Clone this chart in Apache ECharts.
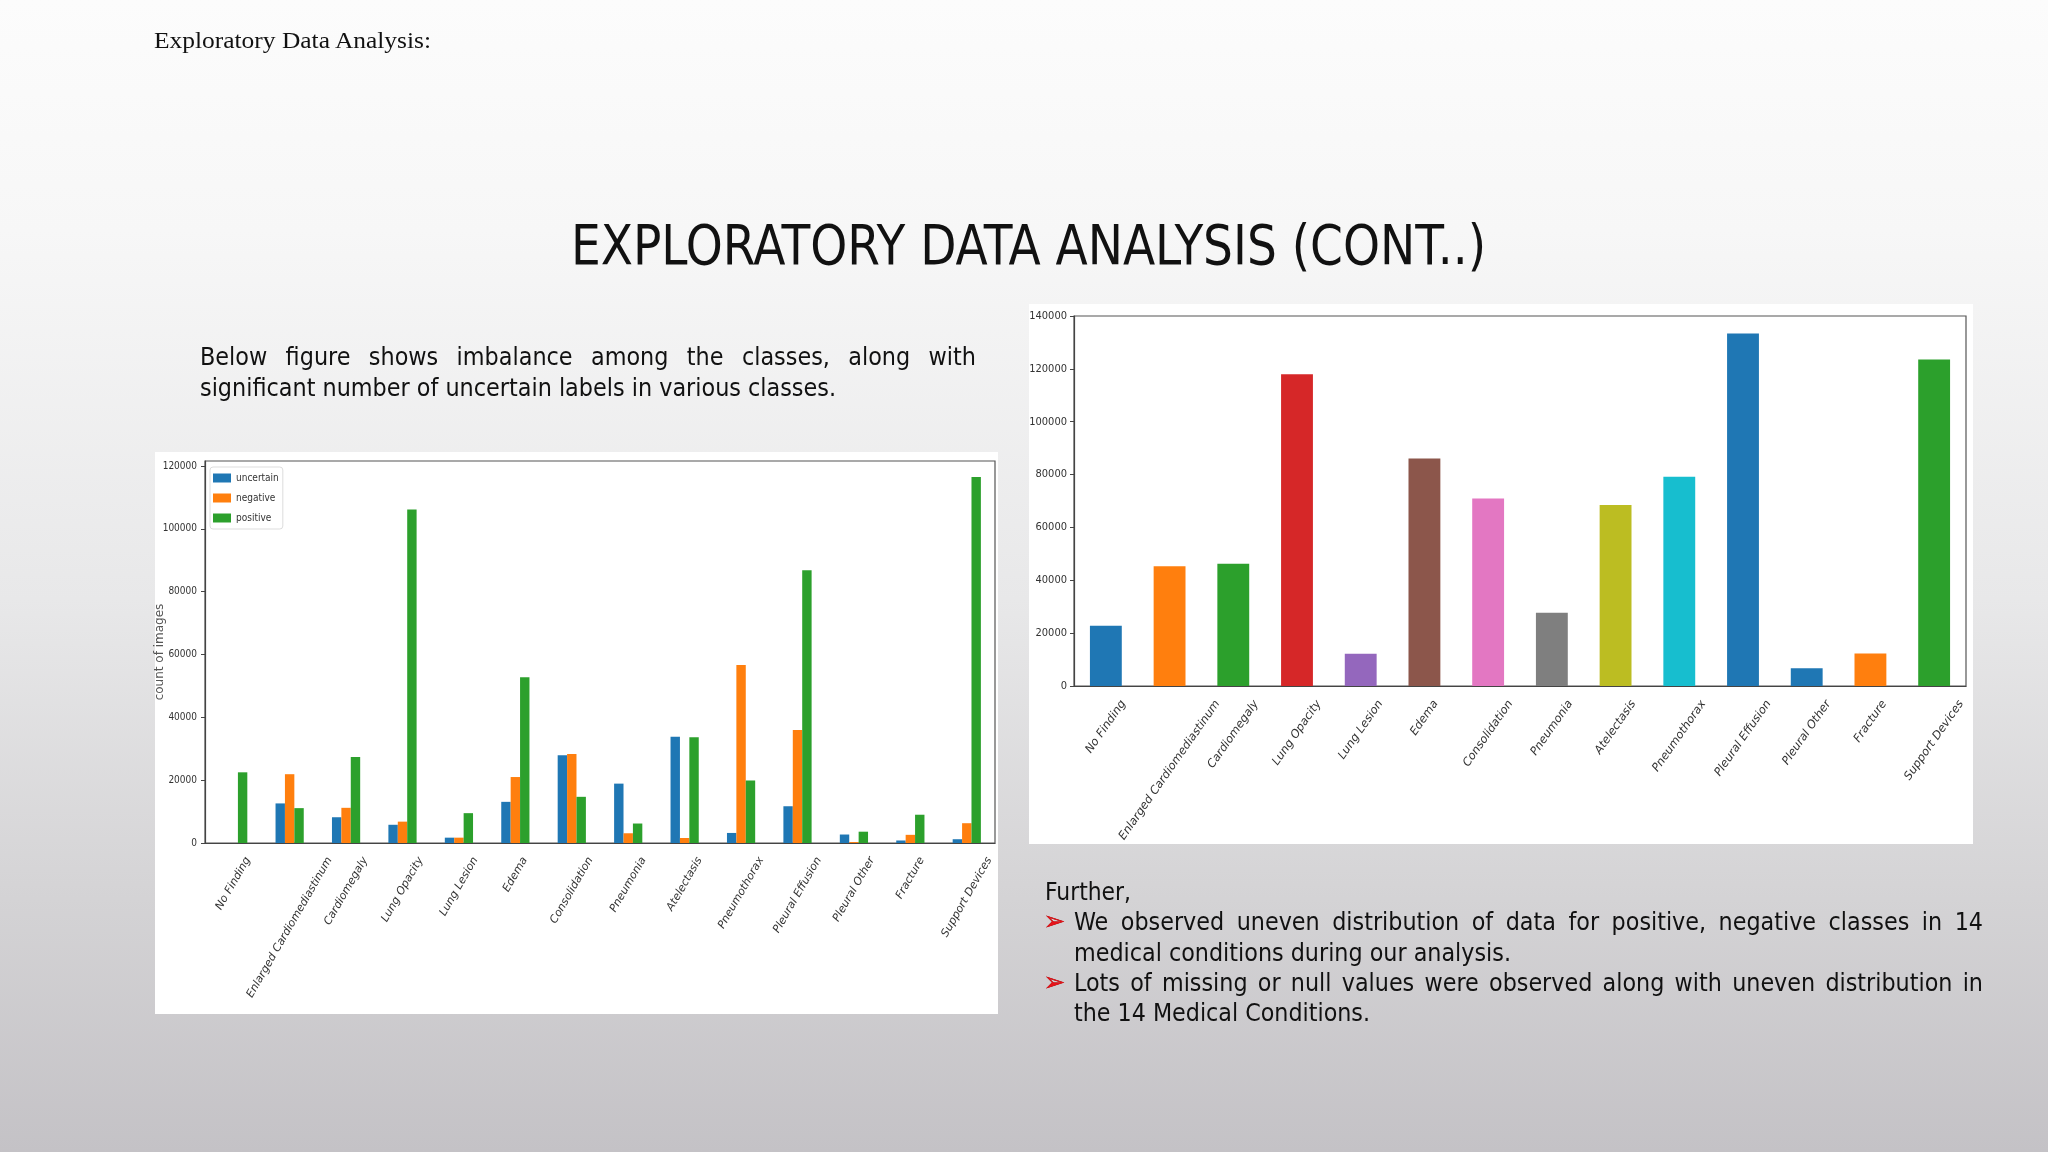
<!DOCTYPE html>
<html><head><meta charset="utf-8">
<script src="https://cdn.jsdelivr.net/npm/echarts@6/dist/echarts.min.js"></script>
<style>
html,body{margin:0;padding:0;width:2048px;height:1152px;overflow:hidden;}
body{background:linear-gradient(to bottom,#fcfcfc 0%,#f7f7f7 20%,#e8e8e9 52%,#d4d3d5 78%,#c4c2c6 100%);position:relative;font-family:'Liberation Sans Narrow','DejaVu Sans Condensed',sans-serif;color:#111;}
.panel{position:absolute;background:#fff;}
.t{position:absolute;white-space:nowrap;transform-origin:0 50%;}
#chart{position:absolute;left:0;top:0;width:2048px;height:1152px;}
.bul{position:absolute;color:#e5141a;font-family:'DejaVu Sans',sans-serif;font-size:27px;line-height:27px;text-shadow:0 0 0.6px #7a0000;}
</style></head><body>
<div class="panel" style="left:155px;top:452px;width:843px;height:562px"></div>
<div class="panel" style="left:1029px;top:304px;width:944px;height:540px"></div>
<div id="chart"></div>
<div class="t" data-x="154" data-y="40" data-w="277" style="font-family:'Liberation Serif',serif;font-size:24px;line-height:24px">Exploratory Data Analysis:</div>
<div class="t" data-x="571" data-y="245" data-w="915" style="font-size:56px;line-height:56px">EXPLORATORY DATA ANALYSIS (CONT..)</div>
<div class="t" data-x="200" data-y="357" data-w="776" data-g="a" data-j="1" style="font-size:24px;line-height:24px">Below figure shows imbalance among the classes, along with</div>
<div class="t" data-x="200" data-y="388" data-w="636" data-g="a" style="font-size:24px;line-height:24px">significant number of uncertain labels in various classes.</div>
<div class="t" data-x="1045" data-y="892" data-w="86" style="font-size:24px;line-height:24px">Further,</div>
<div class="bul" style="left:1043px;top:907px">➢</div>
<div class="t" data-x="1074" data-y="922" data-w="909" data-g="b" data-j="1" style="font-size:24px;line-height:24px">We observed uneven distribution of data for positive, negative classes in 14</div>
<div class="t" data-x="1074" data-y="953" data-w="437" data-g="b" style="font-size:24px;line-height:24px">medical conditions during our analysis.</div>
<div class="bul" style="left:1043px;top:968px">➢</div>
<div class="t" data-x="1074" data-y="983" data-w="909" data-g="b" data-j="1" style="font-size:24px;line-height:24px">Lots of missing or null values were observed along with uneven distribution in</div>
<div class="t" data-x="1074" data-y="1013" data-w="296" data-g="b" style="font-size:24px;line-height:24px">the 14 Medical Conditions.</div>
<script>
// ---------- data ----------
const categories = ['No Finding','Enlarged Cardiomediastinum','Cardiomegaly','Lung Opacity','Lung Lesion','Edema','Consolidation','Pneumonia','Atelectasis','Pneumothorax','Pleural Effusion','Pleural Other','Fracture','Support Devices'];
const seriesNames = ['uncertain','negative','positive'];
const uncertainCounts = [0, 12600, 8200, 5800, 1700, 13100, 27900, 18900, 33800, 3200, 11700, 2700, 800, 1200];
const negativeCounts  = [0, 21900, 11200, 6800, 1700, 21000, 28300, 3100, 1600, 56700, 36000, 300, 2600, 6300];
const positiveCounts  = [22500, 11100, 27400, 106200, 9500, 52800, 14700, 6200, 33700, 19900, 86800, 3600, 9000, 116500];
const totalCounts = [22800, 45300, 46300, 118000, 12200, 86100, 70900, 27700, 68500, 79200, 133400, 6700, 12300, 123500];
const leftTicks = [0, 20000, 40000, 60000, 80000, 100000, 120000];
const rightTicks = [0, 20000, 40000, 60000, 80000, 100000, 120000, 140000];
// palette (style)
const tab10 = ['#1f77b4','#ff7f0e','#2ca02c','#d62728','#9467bd','#8c564b','#e377c2','#7f7f7f','#bcbd22','#17becf'];
const barPalette = tab10.concat(['#1f77b4','#1f77b4','#ff7f0e','#2ca02c']);

// ---------- text fitting ----------
(function(){
  const els=[...document.querySelectorAll('.t')];
  const groupScale={};
  els.forEach(el=>{const fs=parseFloat(getComputedStyle(el).fontSize);el.style.left=el.dataset.x+'px';el.style.top=(+el.dataset.y-fs/2)+'px';});
  els.filter(e=>!e.dataset.j).forEach(el=>{
    const nat=el.getBoundingClientRect().width; const s=(+el.dataset.w)/nat;
    el.style.transform='scaleX('+s+')';
    if(el.dataset.g && groupScale[el.dataset.g]===undefined) groupScale[el.dataset.g]=s;
  });
  els.filter(e=>e.dataset.j).forEach(el=>{
    const nat=el.getBoundingClientRect().width; const w=+el.dataset.w;
    let s=groupScale[el.dataset.g]||1;
    if(nat*s>=w){ s=w/nat; el.style.transform='scaleX('+s+')'; return; }
    el.style.whiteSpace='normal'; el.style.width=(w/s)+'px';
    el.style.textAlign='justify'; el.style.textAlignLast='justify';
    el.style.transform='scaleX('+s+')';
  });
})();

// ---------- chart ----------
const mctx=document.createElement('canvas').getContext('2d');
function measure(t,fs){mctx.font='italic '+fs+'px "DejaVu Sans"';return mctx.measureText(t).width;}
function labelSeries(idx, rotDeg, fs){
  return {type:'custom', xAxisIndex:idx, yAxisIndex:idx, silent:true, clip:false, z:10,
    data:categories.map((c,i)=>[i,0]),
    renderItem:(params,api)=>{
      const i=api.value(0); const p=api.coord([i,0]); const txt=categories[i];
      const L=measure(txt,fs); const th=rotDeg*Math.PI/180;
      const h=L*Math.sin(th)+fs*1.1*Math.cos(th);
      return {type:'text', x:p[0], y:p[1]+12+h/2, rotation:th,
        style:{text:txt, align:'center', verticalAlign:'middle', fontFamily:'DejaVu Sans', fontStyle:'italic', fontSize:fs, fill:'#333'}};
    }};
}
const axisCol='#444';
const yLabel={fontFamily:"'Liberation Sans Narrow','DejaVu Sans Condensed',sans-serif",color:'#333',formatter:v=>String(v)};
const chart=echarts.init(document.getElementById('chart'),null,{renderer:'canvas'});
chart.setOption({
  animation:false,
  backgroundColor:'transparent',
  grid:[
    {left:205,top:461,width:790,height:382,show:true,borderColor:'#555',borderWidth:1.2,backgroundColor:'transparent'},
    {left:1074,top:316,width:892,height:370,show:true,borderColor:'#555',borderWidth:1.2,backgroundColor:'transparent'}
  ],
  legend:{data:seriesNames,orient:'vertical',left:210,top:467,itemWidth:18,itemHeight:9,itemGap:10,
    padding:[6,4,6,3],borderColor:'#ddd',borderWidth:1,borderRadius:3,backgroundColor:'#fff',
    icon:'rect',textStyle:{fontSize:10,fontFamily:"'Liberation Sans Narrow','DejaVu Sans Condensed',sans-serif",color:'#333'}},
  xAxis:[
    {type:'category',gridIndex:0,data:categories,axisLabel:{show:false},
     axisTick:{alignWithLabel:true,length:4,lineStyle:{color:axisCol}},axisLine:{lineStyle:{color:axisCol,width:1.2}}},
    {type:'category',gridIndex:1,data:categories,axisLabel:{show:false},
     axisTick:{alignWithLabel:true,length:4,lineStyle:{color:axisCol}},axisLine:{lineStyle:{color:axisCol,width:1.2}}}
  ],
  yAxis:[
    {type:'value',gridIndex:0,min:leftTicks[0],max:121600,interval:leftTicks[1]-leftTicks[0],
     name:'count of images',nameLocation:'middle',nameGap:39,nameMoveOverlap:false,nameTextStyle:{fontSize:12,color:'#555',fontFamily:'DejaVu Sans'},
     axisLabel:{...yLabel,fontSize:10,margin:8,showMaxLabel:false},
     axisTick:{show:true,length:4,lineStyle:{color:axisCol}},axisLine:{show:true,lineStyle:{color:axisCol,width:1.2}},splitLine:{show:false}},
    {type:'value',gridIndex:1,min:rightTicks[0],max:rightTicks[rightTicks.length-1],interval:rightTicks[1]-rightTicks[0],
     axisLabel:{...yLabel,fontSize:11,margin:7},
     axisTick:{show:true,length:4,lineStyle:{color:axisCol}},axisLine:{show:true,lineStyle:{color:axisCol,width:1.2}},splitLine:{show:false}}
  ],
  series:[
    {name:seriesNames[0],type:'bar',xAxisIndex:0,yAxisIndex:0,data:uncertainCounts,itemStyle:{color:tab10[0]},barGap:'0%',barCategoryGap:'50%'},
    {name:seriesNames[1],type:'bar',xAxisIndex:0,yAxisIndex:0,data:negativeCounts,itemStyle:{color:tab10[1]},barGap:'0%',barCategoryGap:'50%'},
    {name:seriesNames[2],type:'bar',xAxisIndex:0,yAxisIndex:0,data:positiveCounts,itemStyle:{color:tab10[2]},barGap:'0%',barCategoryGap:'50%'},
    {name:'total',type:'bar',xAxisIndex:1,yAxisIndex:1,barCategoryGap:'50%',
     data:totalCounts.map((v,i)=>({value:v,itemStyle:{color:barPalette[i]}}))},
    labelSeries(0,60,11),
    labelSeries(1,55,11.5)
  ]
});
</script>
</body></html>
